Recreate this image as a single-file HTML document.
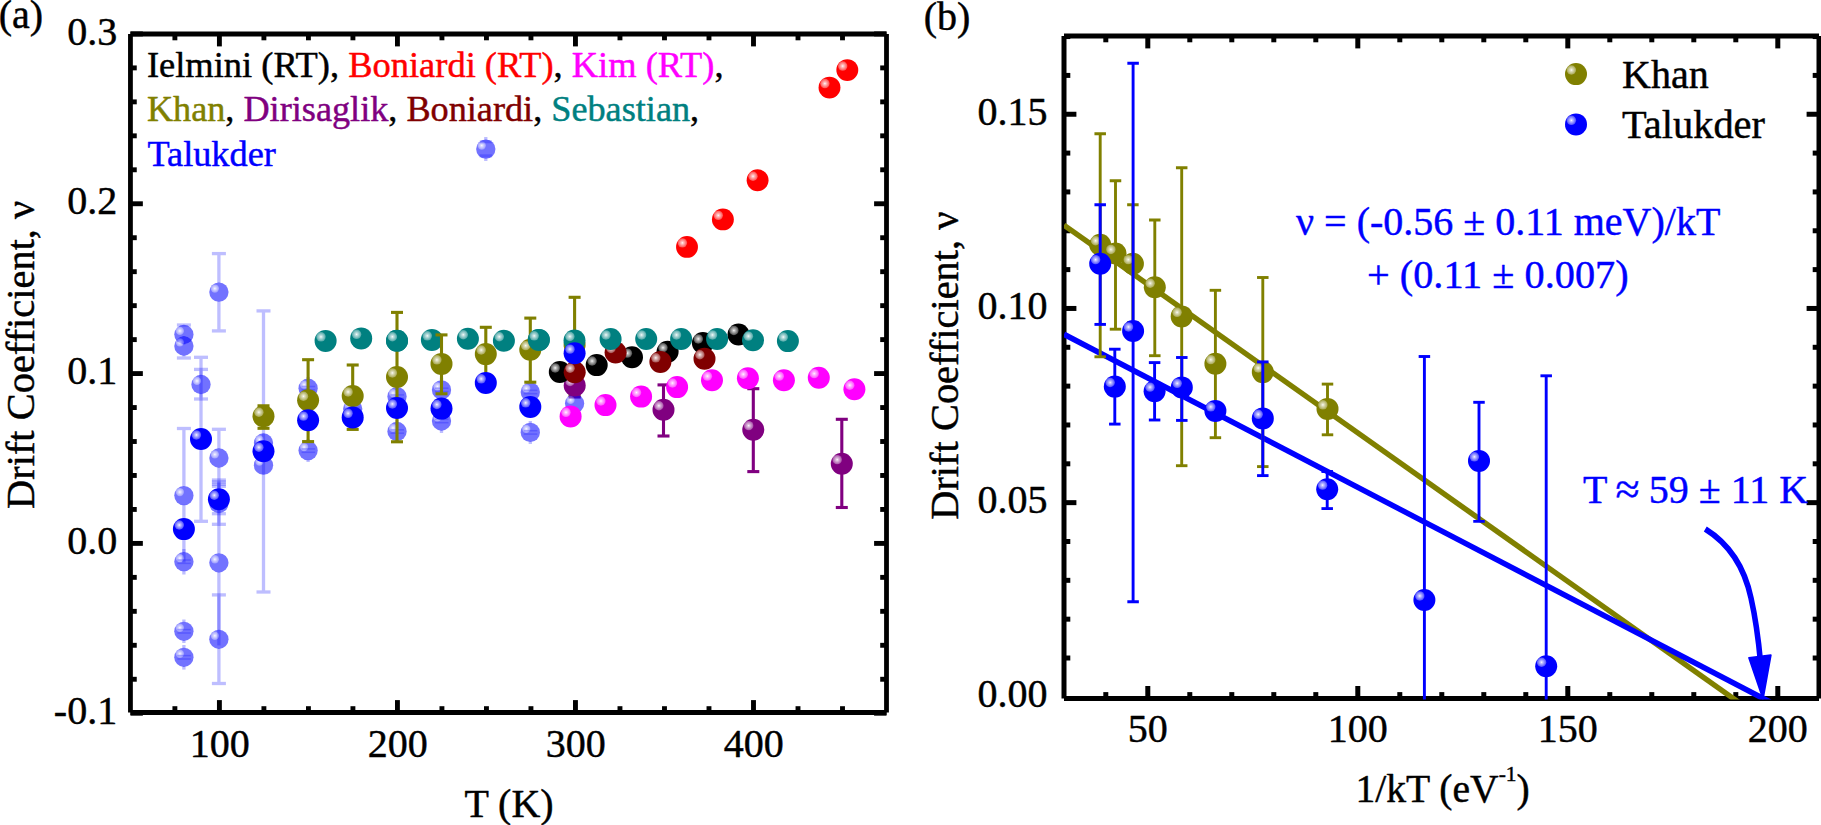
<!DOCTYPE html>
<html lang="en">
<head>
<meta charset="utf-8">
<title>Drift coefficient vs temperature</title>
<style>
html,body{margin:0;padding:0;background:#fff;}
body{width:1821px;height:825px;overflow:hidden;}
svg{display:block;font-family:"Liberation Serif", "DejaVu Serif", serif;}
text{stroke-width:0.45px;stroke-linejoin:round;}
</style>
</head>
<body>
<svg width="1821" height="825" viewBox="0 0 1821 825">
<defs>
<radialGradient id="hl" cx="50%" cy="50%" r="50%">
<stop offset="0" stop-color="#fff" stop-opacity="1"/>
<stop offset="0.22" stop-color="#fff" stop-opacity="0.78"/>
<stop offset="1" stop-color="#fff" stop-opacity="0.3"/>
</radialGradient>
</defs>
<rect width="1821" height="825" fill="#fff"/>
<g id="panel-a">
<g stroke="#000" stroke-width="4.9"><line x1="219.4" y1="34" x2="219.4" y2="46.4"/><line x1="219.4" y1="712.5" x2="219.4" y2="700.1"/><line x1="397.43" y1="34" x2="397.43" y2="46.4"/><line x1="397.43" y1="712.5" x2="397.43" y2="700.1"/><line x1="575.46" y1="34" x2="575.46" y2="46.4"/><line x1="575.46" y1="712.5" x2="575.46" y2="700.1"/><line x1="753.49" y1="34" x2="753.49" y2="46.4"/><line x1="753.49" y1="712.5" x2="753.49" y2="700.1"/><line x1="174.89" y1="34" x2="174.89" y2="40.3"/><line x1="174.89" y1="712.5" x2="174.89" y2="706.2"/><line x1="263.91" y1="34" x2="263.91" y2="40.3"/><line x1="263.91" y1="712.5" x2="263.91" y2="706.2"/><line x1="308.42" y1="34" x2="308.42" y2="40.3"/><line x1="308.42" y1="712.5" x2="308.42" y2="706.2"/><line x1="352.92" y1="34" x2="352.92" y2="40.3"/><line x1="352.92" y1="712.5" x2="352.92" y2="706.2"/><line x1="441.94" y1="34" x2="441.94" y2="40.3"/><line x1="441.94" y1="712.5" x2="441.94" y2="706.2"/><line x1="486.45" y1="34" x2="486.45" y2="40.3"/><line x1="486.45" y1="712.5" x2="486.45" y2="706.2"/><line x1="530.95" y1="34" x2="530.95" y2="40.3"/><line x1="530.95" y1="712.5" x2="530.95" y2="706.2"/><line x1="619.97" y1="34" x2="619.97" y2="40.3"/><line x1="619.97" y1="712.5" x2="619.97" y2="706.2"/><line x1="664.48" y1="34" x2="664.48" y2="40.3"/><line x1="664.48" y1="712.5" x2="664.48" y2="706.2"/><line x1="708.98" y1="34" x2="708.98" y2="40.3"/><line x1="708.98" y1="712.5" x2="708.98" y2="706.2"/><line x1="798" y1="34" x2="798" y2="40.3"/><line x1="798" y1="712.5" x2="798" y2="706.2"/><line x1="842.5" y1="34" x2="842.5" y2="40.3"/><line x1="842.5" y1="712.5" x2="842.5" y2="706.2"/><line x1="130.45" y1="713.22" x2="142.85" y2="713.22"/><line x1="886.5" y1="713.22" x2="874.1" y2="713.22"/><line x1="130.45" y1="543.4" x2="142.85" y2="543.4"/><line x1="886.5" y1="543.4" x2="874.1" y2="543.4"/><line x1="130.45" y1="373.58" x2="142.85" y2="373.58"/><line x1="886.5" y1="373.58" x2="874.1" y2="373.58"/><line x1="130.45" y1="203.76" x2="142.85" y2="203.76"/><line x1="886.5" y1="203.76" x2="874.1" y2="203.76"/><line x1="130.45" y1="33.94" x2="142.85" y2="33.94"/><line x1="886.5" y1="33.94" x2="874.1" y2="33.94"/><line x1="130.45" y1="679.26" x2="136.75" y2="679.26"/><line x1="886.5" y1="679.26" x2="880.2" y2="679.26"/><line x1="130.45" y1="645.29" x2="136.75" y2="645.29"/><line x1="886.5" y1="645.29" x2="880.2" y2="645.29"/><line x1="130.45" y1="611.33" x2="136.75" y2="611.33"/><line x1="886.5" y1="611.33" x2="880.2" y2="611.33"/><line x1="130.45" y1="577.36" x2="136.75" y2="577.36"/><line x1="886.5" y1="577.36" x2="880.2" y2="577.36"/><line x1="130.45" y1="509.44" x2="136.75" y2="509.44"/><line x1="886.5" y1="509.44" x2="880.2" y2="509.44"/><line x1="130.45" y1="475.47" x2="136.75" y2="475.47"/><line x1="886.5" y1="475.47" x2="880.2" y2="475.47"/><line x1="130.45" y1="441.51" x2="136.75" y2="441.51"/><line x1="886.5" y1="441.51" x2="880.2" y2="441.51"/><line x1="130.45" y1="407.54" x2="136.75" y2="407.54"/><line x1="886.5" y1="407.54" x2="880.2" y2="407.54"/><line x1="130.45" y1="339.62" x2="136.75" y2="339.62"/><line x1="886.5" y1="339.62" x2="880.2" y2="339.62"/><line x1="130.45" y1="305.65" x2="136.75" y2="305.65"/><line x1="886.5" y1="305.65" x2="880.2" y2="305.65"/><line x1="130.45" y1="271.69" x2="136.75" y2="271.69"/><line x1="886.5" y1="271.69" x2="880.2" y2="271.69"/><line x1="130.45" y1="237.72" x2="136.75" y2="237.72"/><line x1="886.5" y1="237.72" x2="880.2" y2="237.72"/><line x1="130.45" y1="169.8" x2="136.75" y2="169.8"/><line x1="886.5" y1="169.8" x2="880.2" y2="169.8"/><line x1="130.45" y1="135.83" x2="136.75" y2="135.83"/><line x1="886.5" y1="135.83" x2="880.2" y2="135.83"/><line x1="130.45" y1="101.87" x2="136.75" y2="101.87"/><line x1="886.5" y1="101.87" x2="880.2" y2="101.87"/><line x1="130.45" y1="67.9" x2="136.75" y2="67.9"/><line x1="886.5" y1="67.9" x2="880.2" y2="67.9"/></g>
<g stroke="#000" stroke-width="4.8" stroke-linecap="butt"><line x1="130.45" y1="34" x2="886.5" y2="34"/><line x1="130.45" y1="712.5" x2="886.5" y2="712.5"/><line x1="130.45" y1="34" x2="130.45" y2="712.5"/><line x1="886.5" y1="34" x2="886.5" y2="712.5"/></g>
<g stroke="#0000ff" stroke-width="3.3" opacity="0.25"><line x1="183.9" y1="325" x2="183.9" y2="325.35"/><line x1="176.9" y1="325" x2="190.9" y2="325"/></g>
<g stroke="#0000ff" stroke-width="3.3" opacity="0.25"><line x1="183.9" y1="343.65" x2="183.9" y2="344.5"/></g>
<g stroke="#0000ff" stroke-width="3.3" opacity="0.25"><line x1="183.9" y1="336" x2="183.9" y2="336.85"/></g>
<g stroke="#0000ff" stroke-width="3.3" opacity="0.25"><line x1="183.9" y1="355.15" x2="183.9" y2="358"/><line x1="176.9" y1="358" x2="190.9" y2="358"/></g>
<g stroke="#0000ff" stroke-width="3.3" opacity="0.25"><line x1="183.9" y1="428.5" x2="183.9" y2="486.45"/><line x1="176.9" y1="428.5" x2="190.9" y2="428.5"/></g>
<g stroke="#0000ff" stroke-width="3.3" opacity="0.25"><line x1="183.9" y1="504.75" x2="183.9" y2="562.5"/></g>
<g stroke="#0000ff" stroke-width="3.3" opacity="0.25"><line x1="183.9" y1="549" x2="183.9" y2="552.55"/></g>
<g stroke="#0000ff" stroke-width="3.3" opacity="0.25"><line x1="183.9" y1="570.85" x2="183.9" y2="574.5"/></g>
<g stroke="#0000ff" stroke-width="3.3" opacity="0.25"><line x1="183.9" y1="619.5" x2="183.9" y2="622.15"/></g>
<g stroke="#0000ff" stroke-width="3.3" opacity="0.25"><line x1="183.9" y1="640.45" x2="183.9" y2="643"/></g>
<g stroke="#0000ff" stroke-width="3.3" opacity="0.25"><line x1="183.9" y1="645" x2="183.9" y2="648.15"/></g>
<g stroke="#0000ff" stroke-width="3.3" opacity="0.25"><line x1="183.9" y1="666.45" x2="183.9" y2="669.6"/></g>
<g stroke="#0000ff" stroke-width="3.3" opacity="0.25"><line x1="201" y1="369.4" x2="201" y2="375.35"/><line x1="194" y1="369.4" x2="208" y2="369.4"/></g>
<g stroke="#0000ff" stroke-width="3.3" opacity="0.25"><line x1="201" y1="393.65" x2="201" y2="399"/><line x1="194" y1="399" x2="208" y2="399"/></g>
<g stroke="#0000ff" stroke-width="3.3" opacity="0.25"><line x1="201" y1="357.3" x2="201" y2="521.3"/><line x1="194" y1="357.3" x2="208" y2="357.3"/><line x1="194" y1="521.3" x2="208" y2="521.3"/></g>
<g stroke="#0000ff" stroke-width="3.3" opacity="0.25"><line x1="218.9" y1="253.6" x2="218.9" y2="282.95"/><line x1="211.9" y1="253.6" x2="225.9" y2="253.6"/></g>
<g stroke="#0000ff" stroke-width="3.3" opacity="0.25"><line x1="218.9" y1="301.25" x2="218.9" y2="330.9"/><line x1="211.9" y1="330.9" x2="225.9" y2="330.9"/></g>
<g stroke="#0000ff" stroke-width="3.3" opacity="0.25"><line x1="218.9" y1="429.3" x2="218.9" y2="448.85"/><line x1="211.9" y1="429.3" x2="225.9" y2="429.3"/></g>
<g stroke="#0000ff" stroke-width="3.3" opacity="0.25"><line x1="218.9" y1="467.15" x2="218.9" y2="486.3"/><line x1="211.9" y1="486.3" x2="225.9" y2="486.3"/></g>
<g stroke="#0000ff" stroke-width="3.3" opacity="0.25"><line x1="218.9" y1="484.2" x2="218.9" y2="513.7"/><line x1="211.9" y1="484.2" x2="225.9" y2="484.2"/><line x1="211.9" y1="513.7" x2="225.9" y2="513.7"/></g>
<g stroke="#0000ff" stroke-width="3.3" opacity="0.25"><line x1="218.9" y1="482" x2="218.9" y2="494.35"/><line x1="211.9" y1="482" x2="225.9" y2="482"/></g>
<g stroke="#0000ff" stroke-width="3.3" opacity="0.25"><line x1="218.9" y1="512.65" x2="218.9" y2="524.3"/><line x1="211.9" y1="524.3" x2="225.9" y2="524.3"/></g>
<g stroke="#0000ff" stroke-width="3.3" opacity="0.25"><line x1="218.9" y1="480" x2="218.9" y2="553.65"/><line x1="211.9" y1="480" x2="225.9" y2="480"/></g>
<g stroke="#0000ff" stroke-width="3.3" opacity="0.25"><line x1="218.9" y1="571.95" x2="218.9" y2="645.4"/></g>
<g stroke="#0000ff" stroke-width="3.3" opacity="0.25"><line x1="218.9" y1="594.9" x2="218.9" y2="630.15"/><line x1="211.9" y1="594.9" x2="225.9" y2="594.9"/></g>
<g stroke="#0000ff" stroke-width="3.3" opacity="0.25"><line x1="218.9" y1="648.45" x2="218.9" y2="683.5"/><line x1="211.9" y1="683.5" x2="225.9" y2="683.5"/></g>
<g stroke="#0000ff" stroke-width="3.3" opacity="0.25"><line x1="263.5" y1="310.9" x2="263.5" y2="592"/><line x1="256.5" y1="310.9" x2="270.5" y2="310.9"/><line x1="256.5" y1="592" x2="270.5" y2="592"/></g>
<g stroke="#0000ff" stroke-width="3.3" opacity="0.25"><line x1="308.1" y1="377" x2="308.1" y2="379.05"/></g>
<g stroke="#0000ff" stroke-width="3.3" opacity="0.25"><line x1="308.1" y1="397.35" x2="308.1" y2="399"/></g>
<g stroke="#0000ff" stroke-width="3.3" opacity="0.25"><line x1="308.1" y1="439" x2="308.1" y2="441.45"/></g>
<g stroke="#0000ff" stroke-width="3.3" opacity="0.25"><line x1="308.1" y1="459.75" x2="308.1" y2="462"/></g>
<g stroke="#0000ff" stroke-width="3.3" opacity="0.25"><line x1="352.7" y1="398" x2="352.7" y2="399.85"/></g>
<g stroke="#0000ff" stroke-width="3.3" opacity="0.25"><line x1="352.7" y1="418.15" x2="352.7" y2="420"/></g>
<g stroke="#0000ff" stroke-width="3.3" opacity="0.25"><line x1="397" y1="385" x2="397" y2="387.45"/></g>
<g stroke="#0000ff" stroke-width="3.3" opacity="0.25"><line x1="397" y1="405.75" x2="397" y2="408"/></g>
<g stroke="#0000ff" stroke-width="3.3" opacity="0.25"><line x1="397" y1="420" x2="397" y2="422.35"/></g>
<g stroke="#0000ff" stroke-width="3.3" opacity="0.25"><line x1="397" y1="440.65" x2="397" y2="443"/></g>
<g stroke="#0000ff" stroke-width="3.3" opacity="0.25"><line x1="441.5" y1="378" x2="441.5" y2="380.75"/></g>
<g stroke="#0000ff" stroke-width="3.3" opacity="0.25"><line x1="441.5" y1="399.05" x2="441.5" y2="401"/></g>
<g stroke="#0000ff" stroke-width="3.3" opacity="0.25"><line x1="441.5" y1="410" x2="441.5" y2="411.85"/></g>
<g stroke="#0000ff" stroke-width="3.3" opacity="0.25"><line x1="441.5" y1="430.15" x2="441.5" y2="433"/></g>
<g stroke="#0000ff" stroke-width="3.3" opacity="0.25"><line x1="485.8" y1="137" x2="485.8" y2="139.95"/></g>
<g stroke="#0000ff" stroke-width="3.3" opacity="0.25"><line x1="485.8" y1="158.25" x2="485.8" y2="161"/></g>
<g stroke="#0000ff" stroke-width="3.3" opacity="0.25"><line x1="530.3" y1="381" x2="530.3" y2="382.85"/></g>
<g stroke="#0000ff" stroke-width="3.3" opacity="0.25"><line x1="530.3" y1="401.15" x2="530.3" y2="403"/></g>
<g stroke="#0000ff" stroke-width="3.3" opacity="0.25"><line x1="530.3" y1="421" x2="530.3" y2="423.25"/></g>
<g stroke="#0000ff" stroke-width="3.3" opacity="0.25"><line x1="530.3" y1="441.55" x2="530.3" y2="444"/></g>
<g opacity="0.55"><circle cx="183.9" cy="334.5" r="9.65" fill="#0000ff"/><circle cx="179.85" cy="330.93" r="4.15" fill="url(#hl)"/></g>
<g opacity="0.55"><circle cx="183.9" cy="346" r="9.65" fill="#0000ff"/><circle cx="179.85" cy="342.43" r="4.15" fill="url(#hl)"/></g>
<g opacity="0.55"><circle cx="183.9" cy="495.6" r="9.65" fill="#0000ff"/><circle cx="179.85" cy="492.03" r="4.15" fill="url(#hl)"/></g>
<g opacity="0.55"><circle cx="183.9" cy="561.7" r="9.65" fill="#0000ff"/><circle cx="179.85" cy="558.13" r="4.15" fill="url(#hl)"/></g>
<g stroke="#0000ff" stroke-width="1.5" opacity="0.22"><line x1="177.4" y1="560" x2="190.9" y2="560"/><line x1="177.4" y1="563.4" x2="190.9" y2="563.4"/></g>
<g opacity="0.55"><circle cx="183.9" cy="631.3" r="9.65" fill="#0000ff"/><circle cx="179.85" cy="627.73" r="4.15" fill="url(#hl)"/></g>
<g stroke="#0000ff" stroke-width="1.5" opacity="0.22"><line x1="177.4" y1="629.6" x2="190.9" y2="629.6"/><line x1="177.4" y1="633" x2="190.9" y2="633"/></g>
<g opacity="0.55"><circle cx="183.9" cy="657.3" r="9.65" fill="#0000ff"/><circle cx="179.85" cy="653.73" r="4.15" fill="url(#hl)"/></g>
<g stroke="#0000ff" stroke-width="1.5" opacity="0.22"><line x1="177.4" y1="655.6" x2="190.9" y2="655.6"/><line x1="177.4" y1="659" x2="190.9" y2="659"/></g>
<g opacity="0.55"><circle cx="201" cy="384.5" r="9.65" fill="#0000ff"/><circle cx="196.95" cy="380.93" r="4.15" fill="url(#hl)"/></g>
<g opacity="0.55"><circle cx="218.9" cy="292.1" r="9.65" fill="#0000ff"/><circle cx="214.85" cy="288.53" r="4.15" fill="url(#hl)"/></g>
<g opacity="0.55"><circle cx="218.9" cy="458" r="9.65" fill="#0000ff"/><circle cx="214.85" cy="454.43" r="4.15" fill="url(#hl)"/></g>
<g opacity="0.55"><circle cx="218.9" cy="503.5" r="9.65" fill="#0000ff"/><circle cx="214.85" cy="499.93" r="4.15" fill="url(#hl)"/></g>
<g opacity="0.55"><circle cx="218.9" cy="562.8" r="9.65" fill="#0000ff"/><circle cx="214.85" cy="559.23" r="4.15" fill="url(#hl)"/></g>
<g opacity="0.55"><circle cx="218.9" cy="639.3" r="9.65" fill="#0000ff"/><circle cx="214.85" cy="635.73" r="4.15" fill="url(#hl)"/></g>
<g opacity="0.55"><circle cx="263.5" cy="443" r="9.65" fill="#0000ff"/><circle cx="259.45" cy="439.43" r="4.15" fill="url(#hl)"/></g>
<g opacity="0.55"><circle cx="263.5" cy="465.2" r="9.65" fill="#0000ff"/><circle cx="259.45" cy="461.63" r="4.15" fill="url(#hl)"/></g>
<g opacity="0.55"><circle cx="308.1" cy="388.2" r="9.65" fill="#0000ff"/><circle cx="304.05" cy="384.63" r="4.15" fill="url(#hl)"/></g>
<g stroke="#0000ff" stroke-width="1.5" opacity="0.22"><line x1="301.6" y1="386.5" x2="315.1" y2="386.5"/><line x1="301.6" y1="389.9" x2="315.1" y2="389.9"/></g>
<g opacity="0.55"><circle cx="308.1" cy="450.6" r="9.65" fill="#0000ff"/><circle cx="304.05" cy="447.03" r="4.15" fill="url(#hl)"/></g>
<g stroke="#0000ff" stroke-width="1.5" opacity="0.22"><line x1="301.6" y1="448.9" x2="315.1" y2="448.9"/><line x1="301.6" y1="452.3" x2="315.1" y2="452.3"/></g>
<g opacity="0.55"><circle cx="352.7" cy="409" r="9.65" fill="#0000ff"/><circle cx="348.65" cy="405.43" r="4.15" fill="url(#hl)"/></g>
<g stroke="#0000ff" stroke-width="1.5" opacity="0.22"><line x1="346.2" y1="407.3" x2="359.7" y2="407.3"/><line x1="346.2" y1="410.7" x2="359.7" y2="410.7"/></g>
<g opacity="0.55"><circle cx="397" cy="396.6" r="9.65" fill="#0000ff"/><circle cx="392.95" cy="393.03" r="4.15" fill="url(#hl)"/></g>
<g stroke="#0000ff" stroke-width="1.5" opacity="0.22"><line x1="390.5" y1="394.9" x2="404" y2="394.9"/><line x1="390.5" y1="398.3" x2="404" y2="398.3"/></g>
<g opacity="0.55"><circle cx="397" cy="431.5" r="9.65" fill="#0000ff"/><circle cx="392.95" cy="427.93" r="4.15" fill="url(#hl)"/></g>
<g stroke="#0000ff" stroke-width="1.5" opacity="0.22"><line x1="390.5" y1="429.8" x2="404" y2="429.8"/><line x1="390.5" y1="433.2" x2="404" y2="433.2"/></g>
<g opacity="0.55"><circle cx="441.5" cy="389.9" r="9.65" fill="#0000ff"/><circle cx="437.45" cy="386.33" r="4.15" fill="url(#hl)"/></g>
<g stroke="#0000ff" stroke-width="1.5" opacity="0.22"><line x1="435" y1="388.2" x2="448.5" y2="388.2"/><line x1="435" y1="391.6" x2="448.5" y2="391.6"/></g>
<g opacity="0.55"><circle cx="441.5" cy="421" r="9.65" fill="#0000ff"/><circle cx="437.45" cy="417.43" r="4.15" fill="url(#hl)"/></g>
<g stroke="#0000ff" stroke-width="1.5" opacity="0.22"><line x1="435" y1="419.3" x2="448.5" y2="419.3"/><line x1="435" y1="422.7" x2="448.5" y2="422.7"/></g>
<g opacity="0.55"><circle cx="485.8" cy="149.1" r="9.65" fill="#0000ff"/><circle cx="481.75" cy="145.53" r="4.15" fill="url(#hl)"/></g>
<g stroke="#0000ff" stroke-width="3.2" opacity="0.22"><line x1="479.8" y1="141.7" x2="491.8" y2="141.7"/><line x1="479.5" y1="155.9" x2="492.1" y2="155.9"/></g>
<g opacity="0.55"><circle cx="530.3" cy="392" r="9.65" fill="#0000ff"/><circle cx="526.25" cy="388.43" r="4.15" fill="url(#hl)"/></g>
<g stroke="#0000ff" stroke-width="1.5" opacity="0.22"><line x1="523.8" y1="390.3" x2="537.3" y2="390.3"/><line x1="523.8" y1="393.7" x2="537.3" y2="393.7"/></g>
<g opacity="0.55"><circle cx="530.3" cy="432.4" r="9.65" fill="#0000ff"/><circle cx="526.25" cy="428.83" r="4.15" fill="url(#hl)"/></g>
<g stroke="#0000ff" stroke-width="1.5" opacity="0.22"><line x1="523.8" y1="430.7" x2="537.3" y2="430.7"/><line x1="523.8" y1="434.1" x2="537.3" y2="434.1"/></g>
<g><circle cx="325.6" cy="340.9" r="11" fill="#008080"/><circle cx="320.98" cy="336.83" r="4.73" fill="url(#hl)"/></g>
<g><circle cx="361.2" cy="338.4" r="11" fill="#008080"/><circle cx="356.58" cy="334.33" r="4.73" fill="url(#hl)"/></g>
<g><circle cx="397" cy="340.8" r="11" fill="#008080"/><circle cx="392.38" cy="336.73" r="4.73" fill="url(#hl)"/></g>
<g><circle cx="431.9" cy="339.9" r="11" fill="#008080"/><circle cx="427.28" cy="335.83" r="4.73" fill="url(#hl)"/></g>
<g><circle cx="467.9" cy="338.8" r="11" fill="#008080"/><circle cx="463.28" cy="334.73" r="4.73" fill="url(#hl)"/></g>
<g><circle cx="503.9" cy="340.8" r="11" fill="#008080"/><circle cx="499.28" cy="336.73" r="4.73" fill="url(#hl)"/></g>
<g><circle cx="538.8" cy="339.9" r="11" fill="#008080"/><circle cx="534.18" cy="335.83" r="4.73" fill="url(#hl)"/></g>
<g stroke="#808000" stroke-width="3.1"><line x1="263.5" y1="405.8" x2="263.5" y2="428.3"/><line x1="257.5" y1="405.8" x2="269.5" y2="405.8"/><line x1="257.5" y1="428.3" x2="269.5" y2="428.3"/></g>
<g stroke="#808000" stroke-width="3.1"><line x1="308.1" y1="359.7" x2="308.1" y2="441.6"/><line x1="302.1" y1="359.7" x2="314.1" y2="359.7"/><line x1="302.1" y1="441.6" x2="314.1" y2="441.6"/></g>
<g stroke="#808000" stroke-width="3.1"><line x1="352.7" y1="365" x2="352.7" y2="429.4"/><line x1="346.7" y1="365" x2="358.7" y2="365"/><line x1="346.7" y1="429.4" x2="358.7" y2="429.4"/></g>
<g stroke="#808000" stroke-width="3.1"><line x1="397" y1="312.4" x2="397" y2="441.8"/><line x1="391" y1="312.4" x2="403" y2="312.4"/><line x1="391" y1="441.8" x2="403" y2="441.8"/></g>
<g stroke="#808000" stroke-width="3.1"><line x1="441.5" y1="334.9" x2="441.5" y2="393.8"/><line x1="435.5" y1="334.9" x2="447.5" y2="334.9"/><line x1="435.5" y1="393.8" x2="447.5" y2="393.8"/></g>
<g stroke="#808000" stroke-width="3.1"><line x1="485.8" y1="327.3" x2="485.8" y2="381"/><line x1="479.8" y1="327.3" x2="491.8" y2="327.3"/><line x1="479.8" y1="381" x2="491.8" y2="381"/></g>
<g stroke="#808000" stroke-width="3.1"><line x1="530.3" y1="318.1" x2="530.3" y2="382.2"/><line x1="524.3" y1="318.1" x2="536.3" y2="318.1"/><line x1="524.3" y1="382.2" x2="536.3" y2="382.2"/></g>
<g stroke="#808000" stroke-width="3.1"><line x1="574.6" y1="297.3" x2="574.6" y2="395.5"/><line x1="568.6" y1="297.3" x2="580.6" y2="297.3"/><line x1="568.6" y1="395.5" x2="580.6" y2="395.5"/></g>
<g><circle cx="263.5" cy="416.3" r="11" fill="#808000"/><circle cx="258.88" cy="412.23" r="4.73" fill="url(#hl)"/></g>
<g><circle cx="308.1" cy="400.3" r="11" fill="#808000"/><circle cx="303.48" cy="396.23" r="4.73" fill="url(#hl)"/></g>
<g><circle cx="352.7" cy="396" r="11" fill="#808000"/><circle cx="348.08" cy="391.93" r="4.73" fill="url(#hl)"/></g>
<g><circle cx="397" cy="377" r="11" fill="#808000"/><circle cx="392.38" cy="372.93" r="4.73" fill="url(#hl)"/></g>
<g><circle cx="441.5" cy="363.9" r="11" fill="#808000"/><circle cx="436.88" cy="359.83" r="4.73" fill="url(#hl)"/></g>
<g><circle cx="485.8" cy="354.1" r="11" fill="#808000"/><circle cx="481.18" cy="350.03" r="4.73" fill="url(#hl)"/></g>
<g><circle cx="530.3" cy="349.7" r="11" fill="#808000"/><circle cx="525.68" cy="345.63" r="4.73" fill="url(#hl)"/></g>
<g><circle cx="574.6" cy="345" r="11" fill="#808000"/><circle cx="569.98" cy="340.93" r="4.73" fill="url(#hl)"/></g>
<g><circle cx="397" cy="340.8" r="11" fill="#008080"/><circle cx="392.38" cy="336.73" r="4.73" fill="url(#hl)"/></g>
<g><circle cx="538.8" cy="339.9" r="11" fill="#008080"/><circle cx="534.18" cy="335.83" r="4.73" fill="url(#hl)"/></g>
<g><circle cx="183.9" cy="529.1" r="11" fill="#0000ff"/><circle cx="179.28" cy="525.03" r="4.73" fill="url(#hl)"/></g>
<g><circle cx="201" cy="439" r="11" fill="#0000ff"/><circle cx="196.38" cy="434.93" r="4.73" fill="url(#hl)"/></g>
<g><circle cx="218.9" cy="499.3" r="11" fill="#0000ff"/><circle cx="214.28" cy="495.23" r="4.73" fill="url(#hl)"/></g>
<g><circle cx="263.5" cy="451.3" r="11" fill="#0000ff"/><circle cx="258.88" cy="447.23" r="4.73" fill="url(#hl)"/></g>
<g><circle cx="308.1" cy="420.2" r="11" fill="#0000ff"/><circle cx="303.48" cy="416.13" r="4.73" fill="url(#hl)"/></g>
<g><circle cx="352.7" cy="417.4" r="11" fill="#0000ff"/><circle cx="348.08" cy="413.33" r="4.73" fill="url(#hl)"/></g>
<g><circle cx="397" cy="408" r="11" fill="#0000ff"/><circle cx="392.38" cy="403.93" r="4.73" fill="url(#hl)"/></g>
<g><circle cx="441.5" cy="408.6" r="11" fill="#0000ff"/><circle cx="436.88" cy="404.53" r="4.73" fill="url(#hl)"/></g>
<g><circle cx="485.8" cy="382.9" r="11" fill="#0000ff"/><circle cx="481.18" cy="378.83" r="4.73" fill="url(#hl)"/></g>
<g><circle cx="530.3" cy="406.9" r="11" fill="#0000ff"/><circle cx="525.68" cy="402.83" r="4.73" fill="url(#hl)"/></g>
<g stroke="#800080" stroke-width="3.1"><line x1="574.7" y1="372" x2="574.7" y2="397"/><line x1="568.7" y1="372" x2="580.7" y2="372"/><line x1="568.7" y1="397" x2="580.7" y2="397"/></g>
<g stroke="#800080" stroke-width="3.1"><line x1="663.5" y1="384.9" x2="663.5" y2="436"/><line x1="657.5" y1="384.9" x2="669.5" y2="384.9"/><line x1="657.5" y1="436" x2="669.5" y2="436"/></g>
<g stroke="#800080" stroke-width="3.1"><line x1="753.3" y1="388.7" x2="753.3" y2="471.6"/><line x1="747.3" y1="388.7" x2="759.3" y2="388.7"/><line x1="747.3" y1="471.6" x2="759.3" y2="471.6"/></g>
<g stroke="#800080" stroke-width="3.1"><line x1="841.8" y1="419.3" x2="841.8" y2="507.5"/><line x1="835.8" y1="419.3" x2="847.8" y2="419.3"/><line x1="835.8" y1="507.5" x2="847.8" y2="507.5"/></g>
<g opacity="0.55"><circle cx="574.6" cy="403.5" r="9.65" fill="#0000ff"/><circle cx="570.55" cy="399.93" r="4.15" fill="url(#hl)"/></g>
<g><circle cx="570.6" cy="416.4" r="11" fill="#ff00ff"/><circle cx="565.98" cy="412.33" r="4.73" fill="url(#hl)"/></g>
<g><circle cx="605.5" cy="405.1" r="11" fill="#ff00ff"/><circle cx="600.88" cy="401.03" r="4.73" fill="url(#hl)"/></g>
<g><circle cx="641.1" cy="396.6" r="11" fill="#ff00ff"/><circle cx="636.48" cy="392.53" r="4.73" fill="url(#hl)"/></g>
<g><circle cx="677.1" cy="387.1" r="11" fill="#ff00ff"/><circle cx="672.48" cy="383.03" r="4.73" fill="url(#hl)"/></g>
<g><circle cx="712" cy="380.2" r="11" fill="#ff00ff"/><circle cx="707.38" cy="376.13" r="4.73" fill="url(#hl)"/></g>
<g><circle cx="747.9" cy="378.3" r="11" fill="#ff00ff"/><circle cx="743.28" cy="374.23" r="4.73" fill="url(#hl)"/></g>
<g><circle cx="783.9" cy="380.2" r="11" fill="#ff00ff"/><circle cx="779.28" cy="376.13" r="4.73" fill="url(#hl)"/></g>
<g><circle cx="818.8" cy="377.7" r="11" fill="#ff00ff"/><circle cx="814.18" cy="373.63" r="4.73" fill="url(#hl)"/></g>
<g><circle cx="854.4" cy="389.3" r="11" fill="#ff00ff"/><circle cx="849.78" cy="385.23" r="4.73" fill="url(#hl)"/></g>
<g><circle cx="574.7" cy="385.5" r="11" fill="#800080"/><circle cx="570.08" cy="381.43" r="4.73" fill="url(#hl)"/></g>
<g><circle cx="663.5" cy="409.8" r="11" fill="#800080"/><circle cx="658.88" cy="405.73" r="4.73" fill="url(#hl)"/></g>
<g><circle cx="753.3" cy="429.7" r="11" fill="#800080"/><circle cx="748.68" cy="425.63" r="4.73" fill="url(#hl)"/></g>
<g><circle cx="841.8" cy="463.7" r="11" fill="#800080"/><circle cx="837.18" cy="459.63" r="4.73" fill="url(#hl)"/></g>
<g><circle cx="559.8" cy="372" r="11" fill="#000000"/><circle cx="555.18" cy="367.93" r="4.73" fill="url(#hl)"/></g>
<g><circle cx="596.7" cy="365.1" r="11" fill="#000000"/><circle cx="592.08" cy="361.03" r="4.73" fill="url(#hl)"/></g>
<g><circle cx="632" cy="357.2" r="11" fill="#000000"/><circle cx="627.38" cy="353.13" r="4.73" fill="url(#hl)"/></g>
<g><circle cx="667.6" cy="351.8" r="11" fill="#000000"/><circle cx="662.98" cy="347.73" r="4.73" fill="url(#hl)"/></g>
<g><circle cx="702.9" cy="343" r="11" fill="#000000"/><circle cx="698.28" cy="338.93" r="4.73" fill="url(#hl)"/></g>
<g><circle cx="738.5" cy="334.5" r="11" fill="#000000"/><circle cx="733.88" cy="330.43" r="4.73" fill="url(#hl)"/></g>
<g><circle cx="574.7" cy="372.3" r="11" fill="#800000"/><circle cx="570.08" cy="368.23" r="4.73" fill="url(#hl)"/></g>
<g><circle cx="615.6" cy="352.5" r="11" fill="#800000"/><circle cx="610.98" cy="348.43" r="4.73" fill="url(#hl)"/></g>
<g><circle cx="660.4" cy="361.9" r="11" fill="#800000"/><circle cx="655.78" cy="357.83" r="4.73" fill="url(#hl)"/></g>
<g><circle cx="704.5" cy="358.8" r="11" fill="#800000"/><circle cx="699.88" cy="354.73" r="4.73" fill="url(#hl)"/></g>
<g><circle cx="574.5" cy="340.6" r="11" fill="#008080"/><circle cx="569.88" cy="336.53" r="4.73" fill="url(#hl)"/></g>
<g><circle cx="610.6" cy="339" r="11" fill="#008080"/><circle cx="605.98" cy="334.93" r="4.73" fill="url(#hl)"/></g>
<g><circle cx="646.2" cy="339" r="11" fill="#008080"/><circle cx="641.58" cy="334.93" r="4.73" fill="url(#hl)"/></g>
<g><circle cx="681.1" cy="339" r="11" fill="#008080"/><circle cx="676.48" cy="334.93" r="4.73" fill="url(#hl)"/></g>
<g><circle cx="717.1" cy="339" r="11" fill="#008080"/><circle cx="712.48" cy="334.93" r="4.73" fill="url(#hl)"/></g>
<g><circle cx="753" cy="340.2" r="11" fill="#008080"/><circle cx="748.38" cy="336.13" r="4.73" fill="url(#hl)"/></g>
<g><circle cx="787.9" cy="341.1" r="11" fill="#008080"/><circle cx="783.28" cy="337.03" r="4.73" fill="url(#hl)"/></g>
<g><circle cx="574.6" cy="353.2" r="11" fill="#0000ff"/><circle cx="569.98" cy="349.13" r="4.73" fill="url(#hl)"/></g>
<g><circle cx="687" cy="246.9" r="10.95" fill="#ff0000"/><circle cx="682.4" cy="242.85" r="4.71" fill="url(#hl)"/></g>
<g><circle cx="722.9" cy="219.4" r="10.95" fill="#ff0000"/><circle cx="718.3" cy="215.35" r="4.71" fill="url(#hl)"/></g>
<g><circle cx="757.6" cy="180.3" r="10.95" fill="#ff0000"/><circle cx="753" cy="176.25" r="4.71" fill="url(#hl)"/></g>
<g><circle cx="829.5" cy="87.6" r="10.95" fill="#ff0000"/><circle cx="824.9" cy="83.55" r="4.71" fill="url(#hl)"/></g>
<g><circle cx="847.3" cy="70.1" r="10.95" fill="#ff0000"/><circle cx="842.7" cy="66.05" r="4.71" fill="url(#hl)"/></g>
<text x="219.7" y="756.5" font-size="40" fill="#000" stroke="#000" text-anchor="middle">100</text>
<text x="397.73" y="756.5" font-size="40" fill="#000" stroke="#000" text-anchor="middle">200</text>
<text x="575.76" y="756.5" font-size="40" fill="#000" stroke="#000" text-anchor="middle">300</text>
<text x="753.79" y="756.5" font-size="40" fill="#000" stroke="#000" text-anchor="middle">400</text>
<text x="117.2" y="44.64" font-size="40" fill="#000" stroke="#000" text-anchor="end">0.3</text>
<text x="117.2" y="214.46" font-size="40" fill="#000" stroke="#000" text-anchor="end">0.2</text>
<text x="117.2" y="384.28" font-size="40" fill="#000" stroke="#000" text-anchor="end">0.1</text>
<text x="117.2" y="554.1" font-size="40" fill="#000" stroke="#000" text-anchor="end">0.0</text>
<text x="117.2" y="723.92" font-size="40" fill="#000" stroke="#000" text-anchor="end">-0.1</text>
<text x="509" y="817" font-size="40" fill="#000" stroke="#000" text-anchor="middle">T (K)</text>
<text transform="translate(34.2,509) rotate(-90)" font-size="40.45" stroke="#000">Drift Coefficient, &#957;</text>
<text x="-1.3" y="27.6" font-size="40" fill="#000" stroke="#000" text-anchor="start">(a)</text>
<text x="146.9" y="77.2" font-size="36.46" stroke="#000">Ielmini (RT), <tspan fill="#ff0000" stroke="#ff0000">Boniardi (RT)</tspan>, <tspan fill="#ff00ff" stroke="#ff00ff">Kim (RT)</tspan>,</text>
<text x="146.9" y="121.2" font-size="36.22" stroke="#000"><tspan fill="#808000" stroke="#808000">Khan</tspan>, <tspan fill="#800080" stroke="#800080">Dirisaglik</tspan>, <tspan fill="#800000" stroke="#800000">Boniardi</tspan>, <tspan fill="#008080" stroke="#008080">Sebastian</tspan>,</text>
<text x="147.4" y="165.6" font-size="36.3" fill="#0000ff" stroke="#0000ff">Talukder</text>
</g>
<g id="panel-b">
<g stroke="#000" stroke-width="5"><line x1="1147.8" y1="36" x2="1147.8" y2="48.4"/><line x1="1147.8" y1="698.4" x2="1147.8" y2="686"/><line x1="1357.8" y1="36" x2="1357.8" y2="48.4"/><line x1="1357.8" y1="698.4" x2="1357.8" y2="686"/><line x1="1567.8" y1="36" x2="1567.8" y2="48.4"/><line x1="1567.8" y1="698.4" x2="1567.8" y2="686"/><line x1="1777.8" y1="36" x2="1777.8" y2="48.4"/><line x1="1777.8" y1="698.4" x2="1777.8" y2="686"/><line x1="1105.8" y1="36" x2="1105.8" y2="42.3"/><line x1="1105.8" y1="698.4" x2="1105.8" y2="692.1"/><line x1="1189.8" y1="36" x2="1189.8" y2="42.3"/><line x1="1189.8" y1="698.4" x2="1189.8" y2="692.1"/><line x1="1231.8" y1="36" x2="1231.8" y2="42.3"/><line x1="1231.8" y1="698.4" x2="1231.8" y2="692.1"/><line x1="1273.8" y1="36" x2="1273.8" y2="42.3"/><line x1="1273.8" y1="698.4" x2="1273.8" y2="692.1"/><line x1="1315.8" y1="36" x2="1315.8" y2="42.3"/><line x1="1315.8" y1="698.4" x2="1315.8" y2="692.1"/><line x1="1399.8" y1="36" x2="1399.8" y2="42.3"/><line x1="1399.8" y1="698.4" x2="1399.8" y2="692.1"/><line x1="1441.8" y1="36" x2="1441.8" y2="42.3"/><line x1="1441.8" y1="698.4" x2="1441.8" y2="692.1"/><line x1="1483.8" y1="36" x2="1483.8" y2="42.3"/><line x1="1483.8" y1="698.4" x2="1483.8" y2="692.1"/><line x1="1525.8" y1="36" x2="1525.8" y2="42.3"/><line x1="1525.8" y1="698.4" x2="1525.8" y2="692.1"/><line x1="1609.8" y1="36" x2="1609.8" y2="42.3"/><line x1="1609.8" y1="698.4" x2="1609.8" y2="692.1"/><line x1="1651.8" y1="36" x2="1651.8" y2="42.3"/><line x1="1651.8" y1="698.4" x2="1651.8" y2="692.1"/><line x1="1693.8" y1="36" x2="1693.8" y2="42.3"/><line x1="1693.8" y1="698.4" x2="1693.8" y2="692.1"/><line x1="1735.8" y1="36" x2="1735.8" y2="42.3"/><line x1="1735.8" y1="698.4" x2="1735.8" y2="692.1"/><line x1="1064" y1="502.65" x2="1076.4" y2="502.65"/><line x1="1819" y1="502.65" x2="1806.6" y2="502.65"/><line x1="1064" y1="308.45" x2="1076.4" y2="308.45"/><line x1="1819" y1="308.45" x2="1806.6" y2="308.45"/><line x1="1064" y1="114.25" x2="1076.4" y2="114.25"/><line x1="1819" y1="114.25" x2="1806.6" y2="114.25"/><line x1="1064" y1="658.01" x2="1070.3" y2="658.01"/><line x1="1819" y1="658.01" x2="1812.7" y2="658.01"/><line x1="1064" y1="619.17" x2="1070.3" y2="619.17"/><line x1="1819" y1="619.17" x2="1812.7" y2="619.17"/><line x1="1064" y1="580.33" x2="1070.3" y2="580.33"/><line x1="1819" y1="580.33" x2="1812.7" y2="580.33"/><line x1="1064" y1="541.49" x2="1070.3" y2="541.49"/><line x1="1819" y1="541.49" x2="1812.7" y2="541.49"/><line x1="1064" y1="463.81" x2="1070.3" y2="463.81"/><line x1="1819" y1="463.81" x2="1812.7" y2="463.81"/><line x1="1064" y1="424.97" x2="1070.3" y2="424.97"/><line x1="1819" y1="424.97" x2="1812.7" y2="424.97"/><line x1="1064" y1="386.13" x2="1070.3" y2="386.13"/><line x1="1819" y1="386.13" x2="1812.7" y2="386.13"/><line x1="1064" y1="347.29" x2="1070.3" y2="347.29"/><line x1="1819" y1="347.29" x2="1812.7" y2="347.29"/><line x1="1064" y1="269.61" x2="1070.3" y2="269.61"/><line x1="1819" y1="269.61" x2="1812.7" y2="269.61"/><line x1="1064" y1="230.77" x2="1070.3" y2="230.77"/><line x1="1819" y1="230.77" x2="1812.7" y2="230.77"/><line x1="1064" y1="191.93" x2="1070.3" y2="191.93"/><line x1="1819" y1="191.93" x2="1812.7" y2="191.93"/><line x1="1064" y1="153.09" x2="1070.3" y2="153.09"/><line x1="1819" y1="153.09" x2="1812.7" y2="153.09"/><line x1="1064" y1="75.41" x2="1070.3" y2="75.41"/><line x1="1819" y1="75.41" x2="1812.7" y2="75.41"/><line x1="1064" y1="36.57" x2="1070.3" y2="36.57"/><line x1="1819" y1="36.57" x2="1812.7" y2="36.57"/></g>
<g stroke="#000" stroke-width="5" stroke-linecap="butt"><line x1="1064" y1="36" x2="1819" y2="36"/><line x1="1064" y1="698.4" x2="1819" y2="698.4"/><line x1="1064" y1="36" x2="1064" y2="698.4"/><line x1="1819" y1="36" x2="1819" y2="698.4"/></g>
<clipPath id="clipb"><rect x="1064" y="36" width="755" height="663.6"/></clipPath>
<g clip-path="url(#clipb)">
<line x1="1064" y1="225.08" x2="1740" y2="703.21" stroke="#808000" stroke-width="5.4"/>
<line x1="1064" y1="334.29" x2="1770" y2="702.05" stroke="#0000ff" stroke-width="5.5"/>
<g stroke="#808000" stroke-width="2.9"><line x1="1100.2" y1="133.8" x2="1100.2" y2="356.8"/><line x1="1094.45" y1="133.8" x2="1105.95" y2="133.8"/><line x1="1094.45" y1="356.8" x2="1105.95" y2="356.8"/></g>
<g stroke="#808000" stroke-width="2.9"><line x1="1115.5" y1="180.8" x2="1115.5" y2="329.2"/><line x1="1109.75" y1="180.8" x2="1121.25" y2="180.8"/><line x1="1109.75" y1="329.2" x2="1121.25" y2="329.2"/></g>
<g stroke="#808000" stroke-width="2.9"><line x1="1132.9" y1="204.8" x2="1132.9" y2="322.6"/><line x1="1127.15" y1="204.8" x2="1138.65" y2="204.8"/><line x1="1127.15" y1="322.6" x2="1138.65" y2="322.6"/></g>
<g stroke="#808000" stroke-width="2.9"><line x1="1154.8" y1="220" x2="1154.8" y2="355.7"/><line x1="1149.05" y1="220" x2="1160.55" y2="220"/><line x1="1149.05" y1="355.7" x2="1160.55" y2="355.7"/></g>
<g stroke="#808000" stroke-width="2.9"><line x1="1181.7" y1="167.7" x2="1181.7" y2="465.7"/><line x1="1175.95" y1="167.7" x2="1187.45" y2="167.7"/><line x1="1175.95" y1="465.7" x2="1187.45" y2="465.7"/></g>
<g stroke="#808000" stroke-width="2.9"><line x1="1215.4" y1="290.3" x2="1215.4" y2="437.7"/><line x1="1209.65" y1="290.3" x2="1221.15" y2="290.3"/><line x1="1209.65" y1="437.7" x2="1221.15" y2="437.7"/></g>
<g stroke="#808000" stroke-width="2.9"><line x1="1262.8" y1="277.5" x2="1262.8" y2="466.6"/><line x1="1257.05" y1="277.5" x2="1268.55" y2="277.5"/><line x1="1257.05" y1="466.6" x2="1268.55" y2="466.6"/></g>
<g stroke="#808000" stroke-width="2.9"><line x1="1327.5" y1="384.1" x2="1327.5" y2="434.8"/><line x1="1321.75" y1="384.1" x2="1333.25" y2="384.1"/><line x1="1321.75" y1="434.8" x2="1333.25" y2="434.8"/></g>
<g><circle cx="1100.2" cy="244.8" r="11" fill="#808000"/><circle cx="1095.58" cy="240.73" r="4.73" fill="url(#hl)"/></g>
<g><circle cx="1115.5" cy="253.5" r="11" fill="#808000"/><circle cx="1110.88" cy="249.43" r="4.73" fill="url(#hl)"/></g>
<g><circle cx="1132.9" cy="263.7" r="11" fill="#808000"/><circle cx="1128.28" cy="259.63" r="4.73" fill="url(#hl)"/></g>
<g><circle cx="1154.8" cy="287.3" r="11" fill="#808000"/><circle cx="1150.18" cy="283.23" r="4.73" fill="url(#hl)"/></g>
<g><circle cx="1181.7" cy="316.4" r="11" fill="#808000"/><circle cx="1177.08" cy="312.33" r="4.73" fill="url(#hl)"/></g>
<g><circle cx="1215.4" cy="363.7" r="11" fill="#808000"/><circle cx="1210.78" cy="359.63" r="4.73" fill="url(#hl)"/></g>
<g><circle cx="1262.8" cy="372.1" r="11" fill="#808000"/><circle cx="1258.18" cy="368.03" r="4.73" fill="url(#hl)"/></g>
<g><circle cx="1327.5" cy="408.9" r="11" fill="#808000"/><circle cx="1322.88" cy="404.83" r="4.73" fill="url(#hl)"/></g>
<g stroke="#0000ff" stroke-width="2.9"><line x1="1100.2" y1="204.8" x2="1100.2" y2="324.4"/><line x1="1094.45" y1="204.8" x2="1105.95" y2="204.8"/><line x1="1094.45" y1="324.4" x2="1105.95" y2="324.4"/></g>
<g stroke="#0000ff" stroke-width="2.9"><line x1="1114.8" y1="349.2" x2="1114.8" y2="424.1"/><line x1="1109.05" y1="349.2" x2="1120.55" y2="349.2"/><line x1="1109.05" y1="424.1" x2="1120.55" y2="424.1"/></g>
<g stroke="#0000ff" stroke-width="2.9"><line x1="1133.1" y1="63.3" x2="1133.1" y2="601.8"/><line x1="1127.35" y1="63.3" x2="1138.85" y2="63.3"/><line x1="1127.35" y1="601.8" x2="1138.85" y2="601.8"/></g>
<g stroke="#0000ff" stroke-width="2.9"><line x1="1154.6" y1="362.6" x2="1154.6" y2="420"/><line x1="1148.85" y1="362.6" x2="1160.35" y2="362.6"/><line x1="1148.85" y1="420" x2="1160.35" y2="420"/></g>
<g stroke="#0000ff" stroke-width="2.9"><line x1="1181.8" y1="357.5" x2="1181.8" y2="420.4"/><line x1="1176.05" y1="357.5" x2="1187.55" y2="357.5"/><line x1="1176.05" y1="420.4" x2="1187.55" y2="420.4"/></g>
<g stroke="#0000ff" stroke-width="2.9"><line x1="1215.4" y1="404" x2="1215.4" y2="418"/><line x1="1209.65" y1="404" x2="1221.15" y2="404"/><line x1="1209.65" y1="418" x2="1221.15" y2="418"/></g>
<g stroke="#0000ff" stroke-width="2.9"><line x1="1262.8" y1="361.9" x2="1262.8" y2="475.6"/><line x1="1257.05" y1="361.9" x2="1268.55" y2="361.9"/><line x1="1257.05" y1="475.6" x2="1268.55" y2="475.6"/></g>
<g stroke="#0000ff" stroke-width="2.9"><line x1="1327.2" y1="471.5" x2="1327.2" y2="508.6"/><line x1="1321.45" y1="471.5" x2="1332.95" y2="471.5"/><line x1="1321.45" y1="508.6" x2="1332.95" y2="508.6"/></g>
<g stroke="#0000ff" stroke-width="2.9"><line x1="1424.4" y1="356.5" x2="1424.4" y2="845"/><line x1="1418.65" y1="356.5" x2="1430.15" y2="356.5"/><line x1="1418.65" y1="845" x2="1430.15" y2="845"/></g>
<g stroke="#0000ff" stroke-width="2.9"><line x1="1479" y1="402.3" x2="1479" y2="521.4"/><line x1="1473.25" y1="402.3" x2="1484.75" y2="402.3"/><line x1="1473.25" y1="521.4" x2="1484.75" y2="521.4"/></g>
<g stroke="#0000ff" stroke-width="2.9"><line x1="1546.2" y1="375.8" x2="1546.2" y2="958"/><line x1="1540.45" y1="375.8" x2="1551.95" y2="375.8"/><line x1="1540.45" y1="958" x2="1551.95" y2="958"/></g>
<g><circle cx="1100.2" cy="263.7" r="11" fill="#0000ff"/><circle cx="1095.58" cy="259.63" r="4.73" fill="url(#hl)"/></g>
<g><circle cx="1114.8" cy="386.6" r="11" fill="#0000ff"/><circle cx="1110.18" cy="382.53" r="4.73" fill="url(#hl)"/></g>
<g><circle cx="1133.1" cy="331" r="11" fill="#0000ff"/><circle cx="1128.48" cy="326.93" r="4.73" fill="url(#hl)"/></g>
<g><circle cx="1154.6" cy="391.2" r="11" fill="#0000ff"/><circle cx="1149.98" cy="387.13" r="4.73" fill="url(#hl)"/></g>
<g><circle cx="1181.8" cy="387.4" r="11" fill="#0000ff"/><circle cx="1177.18" cy="383.33" r="4.73" fill="url(#hl)"/></g>
<g><circle cx="1215.4" cy="410.9" r="11" fill="#0000ff"/><circle cx="1210.78" cy="406.83" r="4.73" fill="url(#hl)"/></g>
<g><circle cx="1262.8" cy="418.4" r="11" fill="#0000ff"/><circle cx="1258.18" cy="414.33" r="4.73" fill="url(#hl)"/></g>
<g><circle cx="1327.2" cy="489.2" r="11" fill="#0000ff"/><circle cx="1322.58" cy="485.13" r="4.73" fill="url(#hl)"/></g>
<g><circle cx="1424.4" cy="600" r="11" fill="#0000ff"/><circle cx="1419.78" cy="595.93" r="4.73" fill="url(#hl)"/></g>
<g><circle cx="1479" cy="460.9" r="11" fill="#0000ff"/><circle cx="1474.38" cy="456.83" r="4.73" fill="url(#hl)"/></g>
<g><circle cx="1546.2" cy="666.3" r="11" fill="#0000ff"/><circle cx="1541.58" cy="662.23" r="4.73" fill="url(#hl)"/></g>
</g>
<path d="M1705.3,529 C1731,545 1745,570 1751,598 C1755.5,618 1758.5,640 1760.5,662" fill="none" stroke="#0000ff" stroke-width="5.6"/>
<path d="M1749,657.8 L1770.8,655.2 L1763,698.6 Z" fill="#0000ff" stroke="#0000ff" stroke-width="1.8" stroke-linejoin="round"/>
<text x="1147.8" y="742.1" font-size="40" fill="#000" stroke="#000" text-anchor="middle">50</text>
<text x="1357.8" y="742.1" font-size="40" fill="#000" stroke="#000" text-anchor="middle">100</text>
<text x="1567.8" y="742.1" font-size="40" fill="#000" stroke="#000" text-anchor="middle">150</text>
<text x="1777.8" y="742.1" font-size="40" fill="#000" stroke="#000" text-anchor="middle">200</text>
<text x="1047.4" y="124.75" font-size="40" fill="#000" stroke="#000" text-anchor="end">0.15</text>
<text x="1047.4" y="318.95" font-size="40" fill="#000" stroke="#000" text-anchor="end">0.10</text>
<text x="1047.4" y="513.15" font-size="40" fill="#000" stroke="#000" text-anchor="end">0.05</text>
<text x="1047.4" y="707.35" font-size="40" fill="#000" stroke="#000" text-anchor="end">0.00</text>
<text x="1355.4" y="801.8" font-size="39.6" stroke="#000">1/kT (eV<tspan font-size="21.5" dy="-20.6">-1</tspan><tspan dy="20.6">)</tspan></text>
<text transform="translate(957.7,519.8) rotate(-90)" font-size="40.45" stroke="#000">Drift Coefficient, &#957;</text>
<text x="923.7" y="29.6" font-size="40" fill="#000" stroke="#000" text-anchor="start">(b)</text>
<g><circle cx="1576" cy="74.1" r="11" fill="#808000"/><circle cx="1571.38" cy="70.03" r="4.73" fill="url(#hl)"/></g>
<g><circle cx="1576" cy="124.4" r="11" fill="#0000ff"/><circle cx="1571.38" cy="120.33" r="4.73" fill="url(#hl)"/></g>
<text x="1622" y="87.7" font-size="40" fill="#000" stroke="#000" text-anchor="start">Khan</text>
<text x="1622" y="137.9" font-size="40.4" fill="#000" stroke="#000" text-anchor="start">Talukder</text>
<text x="1296" y="235.4" font-size="40" fill="#0000ff" stroke="#0000ff" text-anchor="start">&#957; = (-0.56 &#177; 0.11 meV)/kT</text>
<text x="1367" y="288" font-size="40.3" fill="#0000ff" stroke="#0000ff" text-anchor="start">+ (0.11 &#177; 0.007)</text>
<text x="1583" y="502.8" font-size="40" fill="#0000ff" stroke="#0000ff" text-anchor="start">T <tspan font-size="44" dx="-1.1" dy="1.4">&#8776;</tspan><tspan dx="-1.1" dy="-1.4"> 59 &#177; 11 K</tspan></text>
</g>
</svg>
</body>
</html>
